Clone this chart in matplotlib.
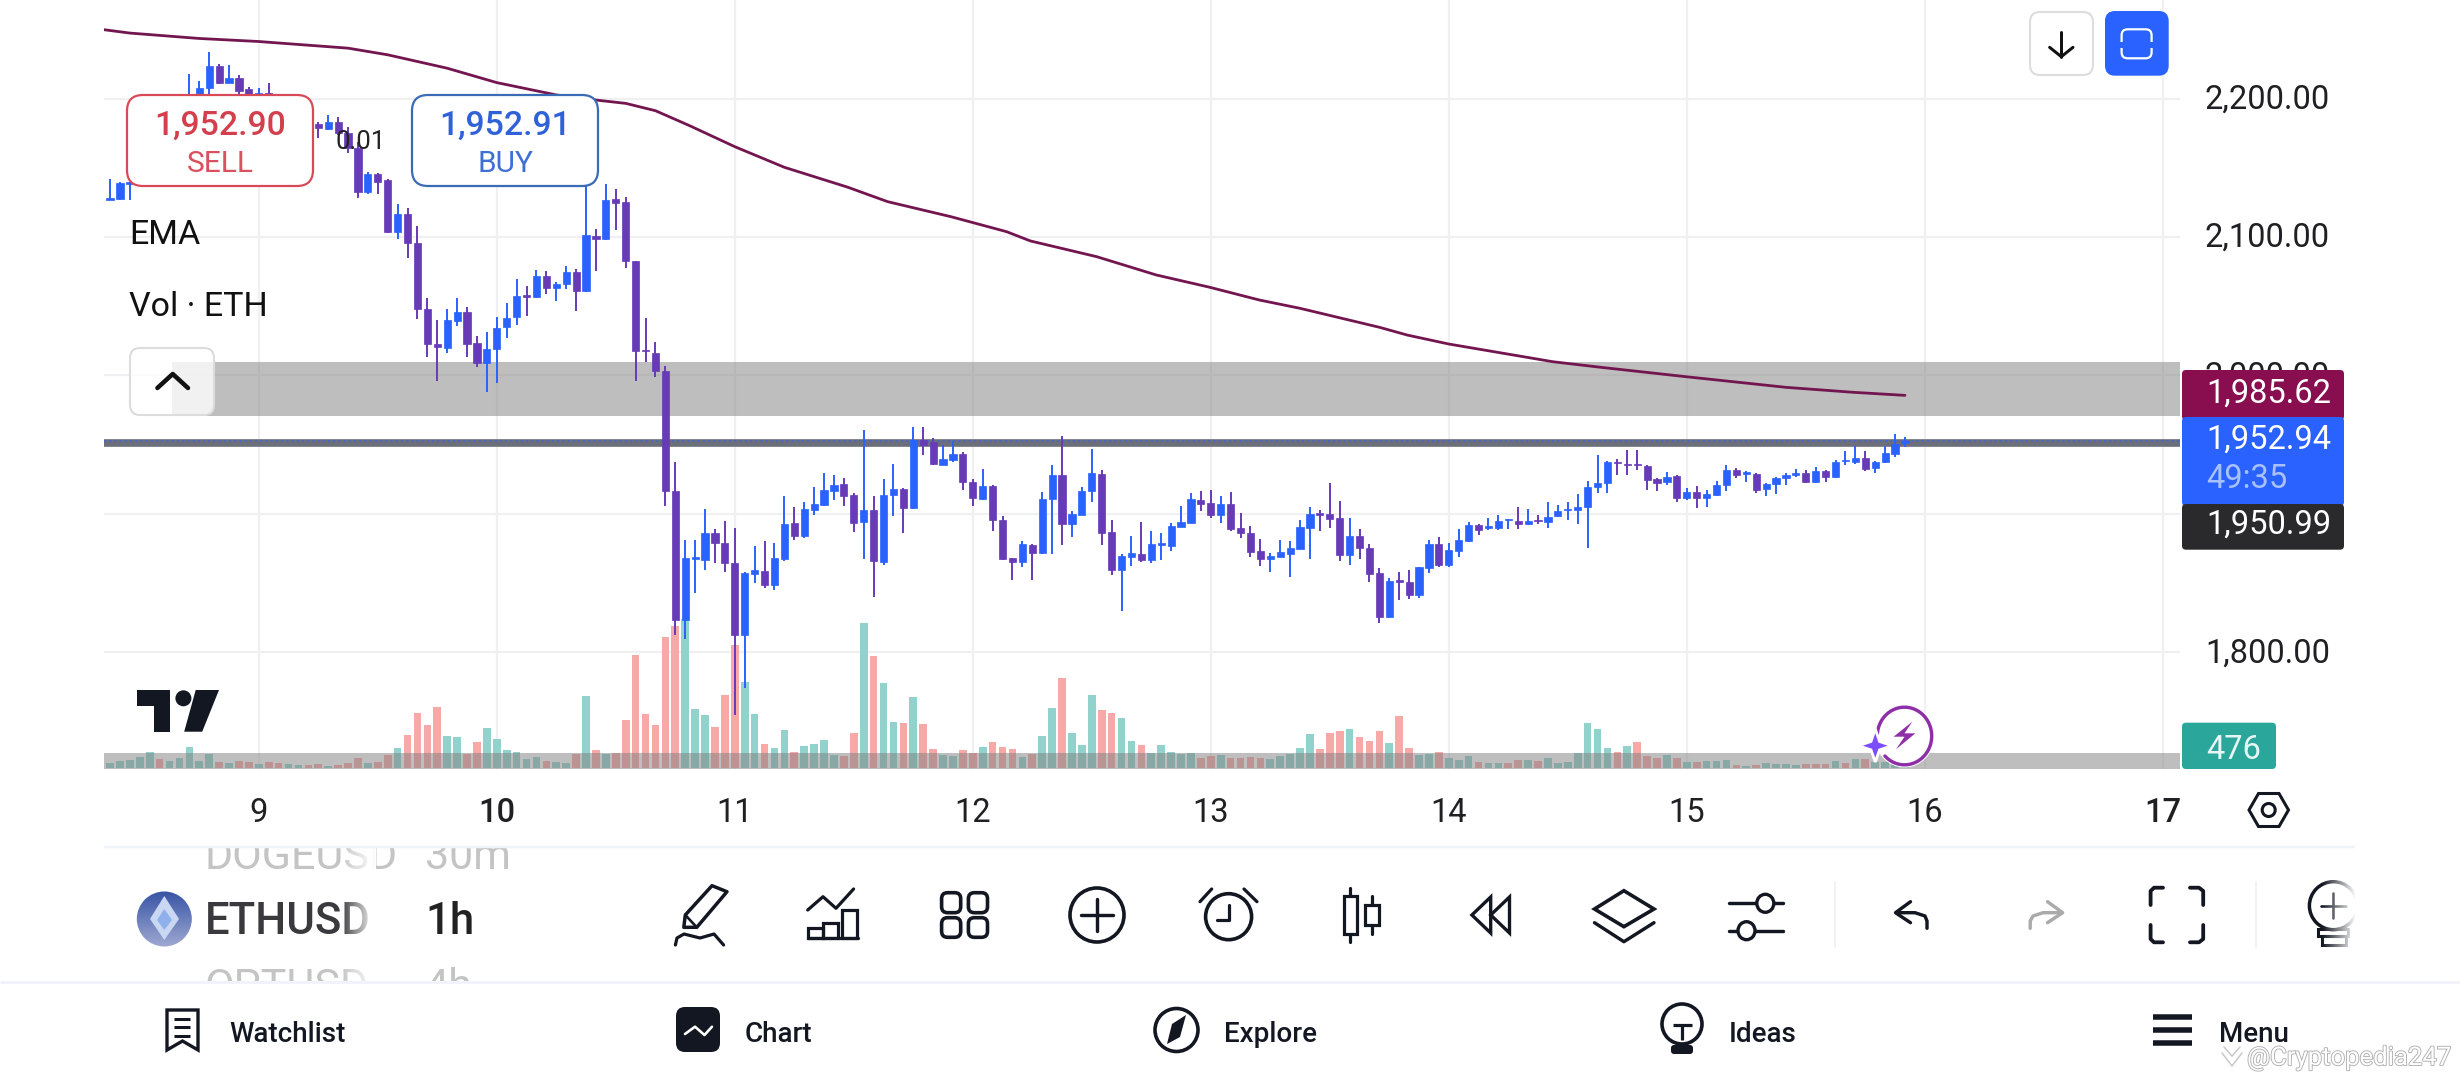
import numpy as np
import matplotlib
matplotlib.use('Agg')
import matplotlib.pyplot as plt
import matplotlib.patheffects as pe
from matplotlib.patches import FancyBboxPatch, Rectangle, Circle, Polygon, Ellipse
from matplotlib.transforms import ScaledTranslation

plt.rcParams['font.family'] = ['Roboto', 'DejaVu Sans']

W, H = 2460, 1080

# hourly ETHUSD candles, first bar is the 8th at 09:00
opens = [
    2127.1, 2127.8, 2138.6, 2139.0, 2150.0, 2162.0, 2158.0, 2172.0, 2180.0, 2192.0,
    2207.5, 2223.7, 2211.6, 2215.2, 2206.8, 2200.0, 2204.4, 2198.0, 2190.0, 2186.0,
    2190.0, 2181.7, 2178.0, 2183.3, 2174.9, 2164.0, 2132.6, 2145.4, 2141.1, 2103.7,
    2116.5, 2095.9, 2048.1, 2022.8, 2019.6, 2039.2, 2046.2, 2023.5, 2008.7, 2019.1,
    2034.8, 2042.1, 2057.8, 2056.6, 2071.5, 2063.3, 2066.2, 2074.4, 2060.9, 2101.0,
    2098.6, 2127.8, 2125.2, 2082.4, 2018.4, 2016.5, 2003.4, 1916.7, 1823.2, 1867.6,
    1866.7, 1886.0, 1878.8, 1864.3, 1812.3, 1856.8, 1858.5, 1848.6, 1867.4, 1893.2,
    1884.1, 1902.9, 1906.5, 1916.2, 1921.7, 1913.8, 1894.2, 1902.9, 1865.5, 1913.3,
    1918.1, 1903.9, 1953.1, 1951.9, 1935.5, 1939.1, 1943.5, 1923.2, 1910.6, 1920.3,
    1895.7, 1867.9, 1865.2, 1877.5, 1872.0, 1910.6, 1928.3, 1892.8, 1899.5, 1916.2,
    1929.0, 1886.7, 1859.4, 1869.1, 1870.8, 1866.7, 1877.8, 1876.8, 1890.6, 1893.7,
    1910.2, 1907.7, 1898.8, 1907.2, 1889.9, 1886.0, 1873.2, 1867.6, 1869.1, 1871.3,
    1874.9, 1890.1, 1900.5, 1899.8, 1896.9, 1870.3, 1884.1, 1875.1, 1857.0, 1825.6,
    1852.0, 1850.7, 1841.3, 1860.9, 1878.3, 1863.1, 1873.4, 1880.4, 1891.8, 1890.1,
    1890.1, 1895.7, 1894.7, 1892.3, 1895.2, 1894.2, 1898.1, 1902.7, 1902.7, 1904.8,
    1919.1, 1922.2, 1937.7, 1936.0, 1936.0, 1934.8, 1925.4, 1922.7, 1927.5, 1911.1,
    1915.5, 1911.1, 1913.8, 1920.5, 1931.9, 1929.0, 1929.0, 1917.9, 1921.3, 1925.6,
    1928.0, 1929.5, 1922.7, 1930.9, 1926.3, 1937.9, 1937.7, 1940.3, 1932.9, 1937.4,
    1943.5, 1951.2,
]
highs = [
    2142.3, 2139.9, 2140.0, 2152.0, 2165.0, 2166.0, 2175.0, 2185.0, 2217.9, 2212.8,
    2233.6, 2225.1, 2224.4, 2216.9, 2208.2, 2208.0, 2211.1, 2201.0, 2192.0, 2193.0,
    2192.0, 2183.3, 2188.2, 2186.5, 2179.7, 2168.9, 2147.1, 2146.0, 2142.0, 2123.7,
    2121.3, 2108.0, 2055.8, 2039.7, 2048.1, 2055.8, 2049.8, 2028.8, 2031.2, 2042.1,
    2052.5, 2069.9, 2064.3, 2075.9, 2075.4, 2067.4, 2078.8, 2076.9, 2136.7, 2106.1,
    2138.2, 2135.0, 2129.0, 2083.0, 2041.6, 2024.0, 2007.0, 1937.4, 1881.2, 1881.2,
    1903.6, 1888.9, 1894.9, 1889.6, 1858.0, 1876.8, 1880.4, 1878.8, 1913.0, 1904.8,
    1908.7, 1919.3, 1929.5, 1928.3, 1926.1, 1915.0, 1960.9, 1913.0, 1925.4, 1936.2,
    1918.5, 1962.8, 1962.8, 1954.8, 1950.0, 1952.4, 1944.4, 1925.1, 1932.4, 1921.0,
    1898.1, 1868.0, 1880.4, 1878.3, 1915.7, 1935.5, 1956.5, 1901.7, 1919.3, 1946.9,
    1931.9, 1895.7, 1871.0, 1884.1, 1894.0, 1887.4, 1886.5, 1893.7, 1905.8, 1915.0,
    1916.2, 1916.9, 1913.0, 1915.5, 1900.5, 1891.3, 1881.7, 1871.5, 1881.2, 1880.2,
    1895.7, 1904.8, 1902.9, 1922.2, 1909.4, 1897.1, 1888.9, 1878.0, 1860.6, 1853.4,
    1857.7, 1859.4, 1861.8, 1881.2, 1883.1, 1878.8, 1888.9, 1894.2, 1892.8, 1896.9,
    1899.0, 1896.5, 1904.8, 1903.4, 1898.8, 1908.5, 1906.3, 1908.5, 1914.3, 1923.9,
    1942.5, 1938.4, 1939.6, 1946.4, 1946.4, 1935.5, 1925.9, 1930.2, 1927.8, 1918.6,
    1920.3, 1916.9, 1923.4, 1935.3, 1933.1, 1931.2, 1929.5, 1922.2, 1926.8, 1929.5,
    1932.4, 1931.9, 1933.8, 1931.4, 1939.1, 1945.6, 1949.3, 1945.6, 1938.4, 1948.8,
    1958.0, 1955.6,
]
lows = [
    2126.6, 2126.6, 2126.6, 2137.0, 2148.0, 2155.0, 2156.0, 2170.0, 2176.0, 2188.0,
    2200.0, 2210.4, 2211.0, 2203.0, 2198.0, 2196.0, 2195.0, 2188.0, 2183.0, 2184.0,
    2180.0, 2171.3, 2177.3, 2173.7, 2160.4, 2128.5, 2131.4, 2131.4, 2103.0, 2098.8,
    2085.1, 2040.9, 2013.1, 1995.7, 2016.2, 2036.0, 2013.1, 2005.8, 1987.7, 1994.3,
    2027.1, 2036.8, 2043.3, 2055.8, 2059.0, 2053.7, 2062.6, 2046.9, 2060.5, 2075.4,
    2098.1, 2104.9, 2077.8, 1995.7, 2009.5, 1998.6, 1905.3, 1812.3, 1809.9, 1842.5,
    1859.4, 1864.7, 1858.2, 1754.4, 1774.4, 1850.3, 1846.6, 1844.9, 1866.2, 1881.2,
    1882.6, 1899.3, 1906.0, 1910.2, 1905.8, 1887.0, 1867.4, 1840.1, 1863.1, 1898.1,
    1886.5, 1903.5, 1942.8, 1935.5, 1935.3, 1937.2, 1916.9, 1905.3, 1909.7, 1887.9,
    1866.7, 1852.2, 1861.8, 1852.2, 1871.0, 1871.0, 1877.5, 1883.1, 1899.0, 1908.2,
    1877.5, 1855.8, 1830.0, 1862.3, 1865.5, 1864.3, 1866.7, 1873.4, 1890.3, 1893.5,
    1901.7, 1896.9, 1893.7, 1887.9, 1882.4, 1869.1, 1862.6, 1858.2, 1868.6, 1854.6,
    1874.4, 1867.6, 1887.9, 1889.4, 1866.2, 1863.3, 1867.2, 1851.0, 1821.3, 1825.0,
    1837.7, 1838.4, 1839.4, 1857.5, 1861.4, 1861.4, 1868.6, 1879.9, 1884.5, 1888.4,
    1888.4, 1888.9, 1888.9, 1891.8, 1892.5, 1889.4, 1897.6, 1895.2, 1892.3, 1875.6,
    1915.0, 1914.7, 1927.8, 1927.8, 1931.4, 1916.9, 1916.2, 1920.5, 1908.9, 1909.7,
    1903.9, 1904.6, 1913.0, 1916.7, 1925.6, 1923.2, 1915.2, 1912.6, 1914.5, 1920.5,
    1926.6, 1922.4, 1922.4, 1923.2, 1926.0, 1935.5, 1936.2, 1930.9, 1929.2, 1937.0,
    1940.8, 1948.1,
]
closes = [
    2128.5, 2139.2, 2139.9, 2150.0, 2162.0, 2158.0, 2172.0, 2180.0, 2190.0, 2207.5,
    2223.7, 2211.1, 2215.0, 2205.8, 2200.0, 2204.4, 2198.0, 2190.0, 2186.0, 2190.0,
    2182.0, 2178.5, 2183.3, 2174.9, 2164.0, 2132.6, 2145.4, 2139.9, 2103.7, 2116.5,
    2095.7, 2048.1, 2022.8, 2020.3, 2039.7, 2045.7, 2022.8, 2008.7, 2019.1, 2034.3,
    2041.6, 2057.1, 2056.6, 2071.5, 2063.3, 2066.2, 2074.4, 2060.9, 2101.2, 2098.6,
    2127.1, 2124.9, 2082.6, 2017.4, 2017.4, 2003.0, 1916.2, 1823.2, 1867.9, 1868.6,
    1886.0, 1879.2, 1864.3, 1812.3, 1857.5, 1859.2, 1848.6, 1867.9, 1892.5, 1884.1,
    1903.4, 1907.0, 1917.4, 1920.8, 1913.0, 1893.7, 1902.9, 1866.0, 1913.8, 1918.1,
    1904.1, 1953.6, 1950.0, 1936.2, 1939.9, 1943.2, 1922.7, 1911.1, 1920.3, 1895.2,
    1867.4, 1865.5, 1878.3, 1872.0, 1910.6, 1928.3, 1892.8, 1900.0, 1916.2, 1929.5,
    1886.5, 1859.4, 1869.6, 1871.5, 1866.7, 1878.3, 1878.8, 1891.3, 1894.2, 1910.6,
    1907.2, 1898.8, 1907.2, 1889.1, 1886.5, 1872.7, 1867.4, 1869.3, 1872.2, 1875.1,
    1890.6, 1900.0, 1899.5, 1896.1, 1870.3, 1884.1, 1875.1, 1856.8, 1825.6, 1851.5,
    1851.0, 1841.3, 1861.4, 1878.3, 1863.1, 1873.9, 1880.9, 1891.8, 1888.4, 1891.1,
    1894.7, 1896.4, 1892.3, 1894.7, 1894.5, 1897.4, 1901.9, 1903.6, 1905.1, 1919.3,
    1922.2, 1937.2, 1936.7, 1935.0, 1935.0, 1924.6, 1922.2, 1926.6, 1911.1, 1915.5,
    1911.1, 1914.3, 1920.8, 1931.9, 1928.3, 1930.0, 1917.4, 1921.5, 1926.1, 1928.0,
    1929.2, 1922.7, 1930.9, 1926.3, 1937.4, 1938.9, 1940.1, 1932.6, 1937.7, 1944.0,
    1950.7, 1952.9,
]
volumes = [
    520, 800, 920, 1280, 1840, 1040, 800, 1160, 2480, 800,
    1640, 680, 560, 800, 680, 440, 680, 560, 440, 320,
    320, 440, 200, 320, 560, 1160, 560, 680, 1520, 2360,
    3920, 6600, 5120, 7280, 3800, 3680, 1640, 3080, 4760, 3440,
    2120, 1880, 1040, 1280, 800, 680, 560, 1640, 8600, 2120,
    1640, 1760, 5720, 13520, 6440, 5120, 15680, 17000, 17800, 7040,
    6320, 4880, 8720, 14720, 10280, 6440, 2840, 2360, 4520, 1880,
    2600, 2840, 3320, 1520, 1400, 4160, 17360, 13400, 10160, 5480,
    5360, 8480, 5240, 2240, 1520, 1400, 2120, 1760, 2480, 3080,
    2480, 2240, 1280, 1640, 3800, 7160, 10760, 4160, 2720, 8720,
    6920, 6560, 5960, 3200, 2720, 1720, 2720, 1880, 1640, 1760,
    1160, 1400, 1520, 1160, 1160, 1280, 1160, 1040, 1400, 1640,
    2360, 4040, 2240, 4160, 4400, 4640, 3680, 3200, 4400, 2960,
    6200, 2360, 1520, 1640, 1880, 1160, 920, 1400, 680, 560,
    560, 560, 920, 920, 800, 1160, 560, 680, 1720, 5360,
    4640, 2360, 1880, 2600, 3080, 1400, 1160, 1520, 1160, 680,
    680, 800, 800, 920, 320, 200, 320, 560, 440, 440,
    320, 440, 440, 440, 800, 560, 1040, 1040, 680, 680,
    440, 476,
]
volume_sides = ("gggggrgggg" "grgrrgrrgg" "rrgrrrgrrg" "rrrrggrrgg" "ggggrggrgr"
                "grrrrrrrgg" "grrrggrggr" "ggggrrgrgg" "rgrrggrrgr" "rrgrggrggg"
                "rrggrggggg" "rrgrrrrggg" "ggrrrgrrrg" "rrggrgggrg" "grrgrggggg"
                "ggrgrrrgrg" "rgggrgrggg" "grrrgrgrgg" "gg")

# EMA, bar number and price
ema_bars = [-1, 2, 9, 15, 24, 28, 34, 39, 45, 49, 52, 55, 58.5, 63, 68, 74.4, 78.4, 84.8, 90.4,
            92.8, 99.5, 105.5, 110.9, 115.9, 120, 128, 130.8, 135, 145.5, 150.3, 158.9,
            169, 175.8, 181]
ema_vals = [2250.2, 2247.4, 2243.5, 2241.3, 2236.5, 2231.7, 2222.0, 2211.6, 2202.7, 2199.0,
            2196.6, 2191.3, 2180.3, 2165.3, 2150.4, 2136.0, 2125.6, 2114.7, 2103.9, 2097.2,
            2085.8, 2072.6, 2063.7, 2054.5, 2048.5, 2034.8, 2029.2, 2022.7, 2009.9, 2005.9,
            1999.1, 1991.4, 1987.8, 1985.6]

price_ticks = [2200, 2100, 2000, 1900, 1800]
day_ticks = [9, 10, 11, 12, 13, 14, 15, 16, 17]
strong_days = [10, 17]
zone_top, zone_bottom = 2009.7, 1970.9
bid_price = 1950.99
last_price = 1952.94

BLUE = '#2962FF'
PURPLE = '#673AB7'
INK = '#131722'


def px_rect(l, t, r, b):
    return [l / W, 1 - b / H, (r - l) / W, (b - t) / H]


def bar_time(i):
    return 8 + (9 + np.asarray(i, dtype=float)) / 24


fig = plt.figure(figsize=(W / 100, H / 100), dpi=100, facecolor='white')
chart_rect = px_rect(104, 0, 2180, 769)
xlim = (8.3496, 17.0723)
ylim = (1715.6, 2271.3)

# grid and the grey zone go at the bottom
ax_bg = fig.add_axes(chart_rect, zorder=1)
ax_bg.set_xlim(xlim)
ax_bg.set_ylim(ylim)
ax_bg.set_xticks(day_ticks)
ax_bg.set_yticks(price_ticks)
ax_bg.tick_params(length=0, labelbottom=False, labelleft=False)
ax_bg.grid(color='#f0f0f2', lw=1.6)
ax_bg.set_axisbelow(True)
for s in ax_bg.spines.values():
    s.set_visible(False)
ax_bg.axhspan(zone_bottom, zone_top, xmin=0.0326, color='#7f7f7f', alpha=0.5, lw=0, zorder=2)

# volume pane
ax_vol = fig.add_axes(chart_rect, zorder=2)
ax_vol.patch.set_visible(False)
ax_vol.set_xlim(xlim)
ax_vol.set_ylim(-156, 92124)
ax_vol.axis('off')
vol_colors = ['#92D2CC' if s == 'g' else '#F7A9A7' for s in volume_sides]
ax_vol.bar(bar_time(np.arange(len(volumes))), volumes, width=0.78 / 24, color=vol_colors, lw=0, zorder=2)
ax_vol.axhspan(-156, 1764, color='#7f7f7f', alpha=0.5, lw=0, zorder=3)

# candles
ax = fig.add_axes(chart_rect, zorder=3)
ax.patch.set_visible(False)
ax.set_xlim(xlim)
ax.set_ylim(ylim)
for s in ax.spines.values():
    s.set_visible(False)

ax.axhline(bid_price, color='#6c6f7a', lw=5.5, zorder=1)
ax.axhline(last_price, color=BLUE, lw=1.5, ls=(0, (1, 1.5)), alpha=0.55, zorder=1.5)

x = bar_time(np.arange(len(opens)))
o = np.array(opens)
c = np.array(closes)
colors = [BLUE if c[i] >= o[i] else PURPLE for i in range(len(o))]
ax.vlines(x, lows, highs, colors=colors, lw=1.4, zorder=3)
ax.bar(x, np.abs(c - o), bottom=np.minimum(o, c), width=0.72 / 24, color=colors,
       edgecolor=colors, lw=0.5, zorder=4)
ax.plot(bar_time(ema_bars), ema_vals, color='#731650', lw=2.0, zorder=5, solid_capstyle='round')

ax.set_xticks(day_ticks)
ax.set_xticklabels([str(d) for d in day_ticks])
ax.set_yticks(price_ticks)
ax.set_yticklabels([f'{p:,.2f}' for p in price_ticks])
ax.yaxis.tick_right()
ax.tick_params(axis='y', length=0, pad=18, labelsize=23.5, labelcolor='#202024')
ax.tick_params(axis='x', length=0, pad=20, labelsize=23.5, labelcolor='#202024')
nudge_up = ScaledTranslation(0, 2.5 / 100, fig.dpi_scale_trans)
for lab in ax.get_yticklabels():
    lab.set_transform(lab.get_transform() + nudge_up)
for lab, d in zip(ax.get_xticklabels(), day_ticks):
    lab.set_fontweight('medium' if d in strong_days else 'regular')

# everything on top is drawn in image pixels
ui = fig.add_axes([0, 0, 1, 1], zorder=5)
ui.patch.set_visible(False)
ui.set_xlim(0, W)
ui.set_ylim(H, 0)
ui.axis('off')


def box(l, t, r, b, rad=10, fc='white', ec='none', lw=0, z=5):
    p = FancyBboxPatch((l, t), r - l, b - t, boxstyle=f'round,pad=0,rounding_size={rad}',
                       fc=fc, ec=ec, lw=lw, zorder=z)
    ui.add_patch(p)
    return p


def line(xs, ys, color=INK, w=3.0, z=6, cap='round'):
    ui.plot(xs, ys, color=color, lw=w * 0.72, zorder=z, solid_capstyle=cap, solid_joinstyle='round')


def label(x, y, s, size=23.5, color='#202024', weight='regular', ha='left', va='center', z=7):
    if va == 'center':
        y = y + 3  # Roboto sits high in its box
    return ui.text(x, y, s, fontsize=size, color=color, fontweight=weight, ha=ha, va=va, zorder=z)


def fade(l, r, t, b, z=8):
    g = np.ones((2, 64, 4))
    g[..., 3] = np.linspace(0, 1, 64)
    ui.imshow(g, extent=(l, r, b, t), aspect='auto', zorder=z, interpolation='bilinear')
    ui.set_xlim(0, W)
    ui.set_ylim(H, 0)


# sell and buy boxes
box(127, 95, 313, 186, 16, 'white', '#d94a58', 1.6)
label(220, 122.5, '1,952.90', 24.3, '#d23f4d', 'medium', 'center')
label(220, 161.5, 'SELL', 21.5, '#d9515f', 'regular', 'center')
box(412, 95, 598, 186, 16, 'white', '#3a6bb5', 1.6)
label(505, 122.5, '1,952.91', 24.3, '#2f62d8', 'medium', 'center')
label(505, 161.5, 'BUY', 21.5, '#3d6fd6', 'regular', 'center')
label(361, 139, '0.01', 18.5, '#222222', 'regular', 'center')

label(129, 232, 'EMA', 24.5, '#111111')
label(129, 304, 'Vol · ETH', 24.5, '#111111')

box(130, 348, 214, 415, 10, (1, 1, 1, 0.8), '#dcdcdc', 1.5)
line([157.4, 172.7, 188], [388, 374, 388], '#111111', 4.5)

# TradingView logo
ui.add_patch(Polygon([(137, 690), (170, 690), (170, 731.7), (153.6, 731.7), (153.6, 706), (137, 706)],
                     fc=INK, lw=0, zorder=6))
ui.add_patch(Circle((183.4, 698.3), 8, fc=INK, lw=0, zorder=6))
ui.add_patch(Polygon([(195.7, 690), (219, 690), (202.2, 731.7), (184.2, 731.7)], fc=INK, lw=0, zorder=6))

# top right buttons
box(2030, 12, 2093, 75, 10, 'white', '#dddddd', 1.5)
line([2061.3, 2061.3], [31.7, 56.7], '#111111', 3)
line([2049.6, 2061.3, 2073], [47.3, 56.7, 47.3], '#111111', 3)
box(2105, 11, 2168.7, 75.7, 10, BLUE)
box(2121.6, 29.3, 2151.6, 58.3, 6, 'none', 'white', 1.6, 6)
ui.add_patch(Rectangle((2118, 41.7), 37, 6.6, fc=BLUE, lw=0, zorder=7))

# price tags
box(2182, 370, 2344, 420, 4, '#880E4F')
label(2206, 391, '1,985.62', 23.5, 'white')
box(2182, 417, 2344, 506, 4, BLUE, z=5.2)
label(2206, 437, '1,952.94', 23.5, 'white')
label(2206, 476, '49:35', 23.5, '#a9c0ff')
box(2182, 504, 2344, 549.7, 4, '#2a2a2c', z=5.4)
label(2206, 522, '1,950.99', 23.5, 'white')
box(2182, 722.7, 2276, 769, 4, '#2aa79a')
label(2206, 747, '476', 23.5, '#e6f6f4')

# spark icon over the volume pane
t = np.radians(np.linspace(185, 496, 120))
ui.add_patch(Ellipse((1904.5, 736), 60, 63, fc='white', lw=0, zorder=5))
line(1904.5 + 27.2 * np.cos(t), 736 + 28.8 * np.sin(t), '#8e2fa8', 3.4)
ui.add_patch(Polygon([(1912.3, 721.7), (1893.6, 736.7), (1904.5, 736.7), (1896, 749.3),
                      (1915.4, 733.3), (1904.5, 733.3)], fc='#8e2fa8', lw=0, zorder=6))
star = Polygon([(1875.3, 729), (1879.5, 741.5), (1892, 745.7), (1879.5, 749.9), (1875.3, 762),
                (1871, 749.9), (1858.5, 745.7), (1871, 741.5)], fc='#7c4dff', ec='white', lw=2, zorder=6)
ui.add_patch(star)

# settings hexagon under the price axis
ui.add_patch(Polygon([(2249, 810), (2258.5, 793.5), (2279, 793.5), (2288.5, 810), (2279, 826.5), (2258.5, 826.5)],
                     fc='none', ec=INK, lw=2.2, zorder=6))
ui.add_patch(Circle((2268.7, 810), 6.5, fc='none', ec=INK, lw=2.2, zorder=6))

# symbol picker, rows above and below are cut off
label(204.5, 869, 'DOGEUSD', 31, '#c4c4c4', 'regular', va='baseline')
label(425, 869, '30m', 31, '#c4c4c4', 'regular', va='baseline')
label(204.5, 999, 'OPTUSD', 31, '#c4c4c4', 'regular', va='baseline')
label(425, 999, '4h', 31, '#c4c4c4', 'regular', va='baseline')
label(204.5, 934, 'ETHUSD', 31.5, '#3a3a3e', 'medium', va='baseline')
label(425, 934, '1h', 31.5, '#222222', 'medium', va='baseline')
fade(340, 376, 840, 1000)
ui.add_patch(Rectangle((100, 826), 630, 21, fc='white', lw=0, zorder=9))
ui.add_patch(Rectangle((100, 982), 400, 26, fc='white', lw=0, zorder=9))
line([104, 2355], [847.3, 847.3], '#f0f3fa', 2.5, 10, 'butt')
line([0, W], [982.3, 982.3], '#f0f3fa', 3, 10, 'butt')

# coin
coin = Circle((164.3, 919), 27.5, transform=ui.transData)
grad = np.zeros((64, 1, 3))
grad[..., 0] = np.linspace(0.22, 0.62, 64)[:, None]
grad[..., 1] = np.linspace(0.33, 0.66, 64)[:, None]
grad[..., 2] = np.linspace(0.65, 0.82, 64)[:, None]
im = ui.imshow(grad, extent=(136, 193, 947, 891), aspect='auto', zorder=6)
im.set_clip_path(coin)
ui.set_xlim(0, W)
ui.set_ylim(H, 0)
ui.add_patch(Polygon([(164.3, 896), (179, 919), (164.3, 940), (150, 919)], fc='#c9d7f2', lw=0, zorder=7))
ui.add_patch(Polygon([(164.3, 909), (172, 920), (164.3, 930), (157, 920)], fc='#8fb0ea', lw=0, zorder=7))

# toolbar icons
ui.add_patch(Polygon([(712, 885.7), (727, 891.7), (696.8, 927.3), (683.8, 927.3), (685.3, 915)],
                     fc='none', ec=INK, lw=2.5, zorder=6, joinstyle='round'))
line([685.3, 696.8], [915, 927.3], INK, 2.6)
line([675.4, 677, 684, 700, 714, 723.6], [945, 938, 934, 938, 934, 945], INK, 3.2)

line([807.7, 823, 836, 853.6], [910, 896.7, 908.3, 889], INK, 3.2)
line([808, 857.5], [938.3, 938.3], INK, 3.2)
for l, r, top in [(808, 823, 928), (823, 838, 923), (842, 857, 910)]:
    ui.add_patch(Rectangle((l, top), r - l, 938.3 - top, fc='none', ec=INK, lw=2.3, zorder=6))

for l, r in [(941.6, 960.7), (968.4, 987.5)]:
    for top, bot in [(892.7, 912.7), (917.7, 937.3)]:
        box(l, top, r, bot, 6, 'none', INK, 2.6, 6)

ui.add_patch(Circle((1097, 915), 27, fc='none', ec=INK, lw=2.6, zorder=6))
line([1081, 1113], [915, 915], INK, 3.4)
line([1097, 1097], [899, 931], INK, 3.4)

ui.add_patch(Circle((1228.6, 916.7), 23, fc='none', ec=INK, lw=2.6, zorder=6))
line([1228.6, 1228.6, 1217], [905, 920, 920], INK, 3.2)
line([1200, 1211.7], [901.7, 889], INK, 3.2)
line([1257, 1244], [901.7, 889], INK, 3.2)

line([1350, 1350], [887.7, 942.3], INK, 3.2)
ui.add_patch(Rectangle((1344, 896), 12.7, 38, fc='white', ec=INK, lw=2.3, zorder=7))
line([1371.8, 1371.8], [896, 934], INK, 3.2)
ui.add_patch(Rectangle((1365, 905), 13.6, 20, fc='white', ec=INK, lw=2.3, zorder=7))

ui.add_patch(Polygon([(1471.9, 915), (1490.7, 897), (1490.7, 933)], fc='none', ec=INK, lw=2.4, zorder=6))
ui.add_patch(Polygon([(1490.7, 915), (1509.5, 897), (1509.5, 933)], fc='none', ec=INK, lw=2.4, zorder=6))

ui.add_patch(Polygon([(1623.9, 890.7), (1654, 909), (1623.9, 926.7), (1594.5, 909)], fc='none', ec=INK, lw=2.6,
                     zorder=6))
line([1594.5, 1623.9, 1654], [922.7, 941.7, 922.7], INK, 3.4)

line([1729, 1782.6], [903.3, 903.3], INK, 3.4)
ui.add_patch(Ellipse((1765.3, 903.3), 17, 18, fc='white', ec=INK, lw=2.4, zorder=7))
line([1729, 1782.6], [930.7, 930.7], INK, 3.4)
ui.add_patch(Ellipse((1746.5, 930.7), 17, 18, fc='white', ec=INK, lw=2.4, zorder=7))

line([1834.6, 1834.6], [881.7, 947.3], '#eeeeee', 1.5)
line([2256, 2256], [881.7, 947.3], '#eeeeee', 1.5)

line([1910.5, 1895.5, 1910.5], [901.7, 912.7, 922.7], INK, 3.4)
line([1897, 1915, 1925, 1927, 1927], [912.7, 912.7, 916, 921, 928.3], INK, 3.4)
line([2047.5, 2062.6, 2047.5], [901.7, 912.7, 922.7], '#aaaaaa', 3.4)
line([2061, 2043, 2033, 2030.2, 2030.2], [912.7, 912.7, 916, 921, 928.3], '#aaaaaa', 3.4)

line([2163, 2154, 2150.6, 2150.6], [887.7, 887.7, 891, 905], INK, 3.8)
line([2190, 2199, 2203.2, 2203.2], [887.7, 887.7, 891, 905], INK, 3.8)
line([2163, 2154, 2150.6, 2150.6], [942.3, 942.3, 939, 925], INK, 3.8)
line([2190, 2199, 2203.2, 2203.2], [942.3, 942.3, 939, 925], INK, 3.8)

# half hidden bulb at the end of the toolbar
ui.add_patch(Circle((2333.4, 905.7), 24, fc='none', ec=INK, lw=2.5, zorder=6))
line([2333.4, 2333.4], [893, 918], INK, 2.6)
line([2321, 2346], [905.7, 905.7], INK, 2.6)
ui.add_patch(Rectangle((2318, 929), 30, 7, fc='none', ec=INK, lw=2.2, zorder=6))
ui.add_patch(Rectangle((2322, 936), 24, 9, fc='none', ec=INK, lw=2.2, zorder=6))
fade(2322, 2356, 880, 950)
ui.add_patch(Rectangle((2355, 878), 40, 74, fc='white', lw=0, zorder=9))

# bottom navigation
ui.add_patch(Polygon([(167, 1010), (198, 1010), (198, 1050), (182.5, 1041), (167, 1050)], fc='none', ec=INK,
                     lw=2.4, zorder=6))
for yy in [1019, 1027.3, 1035.7]:
    line([174, 190], [yy, yy], INK, 3, cap='butt')
label(229, 1031, 'Watchlist', 20, INK, 'medium')

box(676, 1007, 720, 1052, 9, INK)
line([685, 695, 704.5, 712], [1034, 1026.7, 1035, 1026.7], 'white', 2.6)
label(745, 1031, 'Chart', 20, INK, 'medium')

ui.add_patch(Circle((1176.5, 1030), 21.5, fc='none', ec=INK, lw=2.6, zorder=6))
ui.add_patch(Polygon([(1186, 1015), (1180, 1037), (1167, 1044), (1172, 1024)], fc=INK, lw=0, zorder=6))
label(1224, 1031, 'Explore', 20, INK, 'medium')

ui.add_patch(Circle((1682, 1024), 20, fc='none', ec=INK, lw=2.6, zorder=6))
line([1672.8, 1691.6], [1025, 1025], INK, 3.2, cap='butt')
line([1682, 1682], [1025, 1040], INK, 3.2, cap='butt')
box(1671, 1045, 1693, 1054, 3, INK)
label(1729, 1031, 'Ideas', 20, INK, 'medium')

for yy in [1017, 1030, 1043]:
    line([2153, 2192], [yy, yy], INK, 5.5, cap='butt')
label(2219, 1031, 'Menu', 20, INK, 'medium')

# watermark
wm = label(2247, 1055, '@Cryptopedia247', 18.5, 'white', 'regular', z=11)
wm.set_path_effects([pe.withStroke(linewidth=1.3, foreground='#b0b0b0')])
line([2222, 2232, 2242], [1053, 1066, 1053], '#c8c8c8', 1.5, 11)
line([2224, 2232, 2240], [1047, 1056, 1047], '#c8c8c8', 1.5, 11)

fig.savefig('out.png', dpi=100)
